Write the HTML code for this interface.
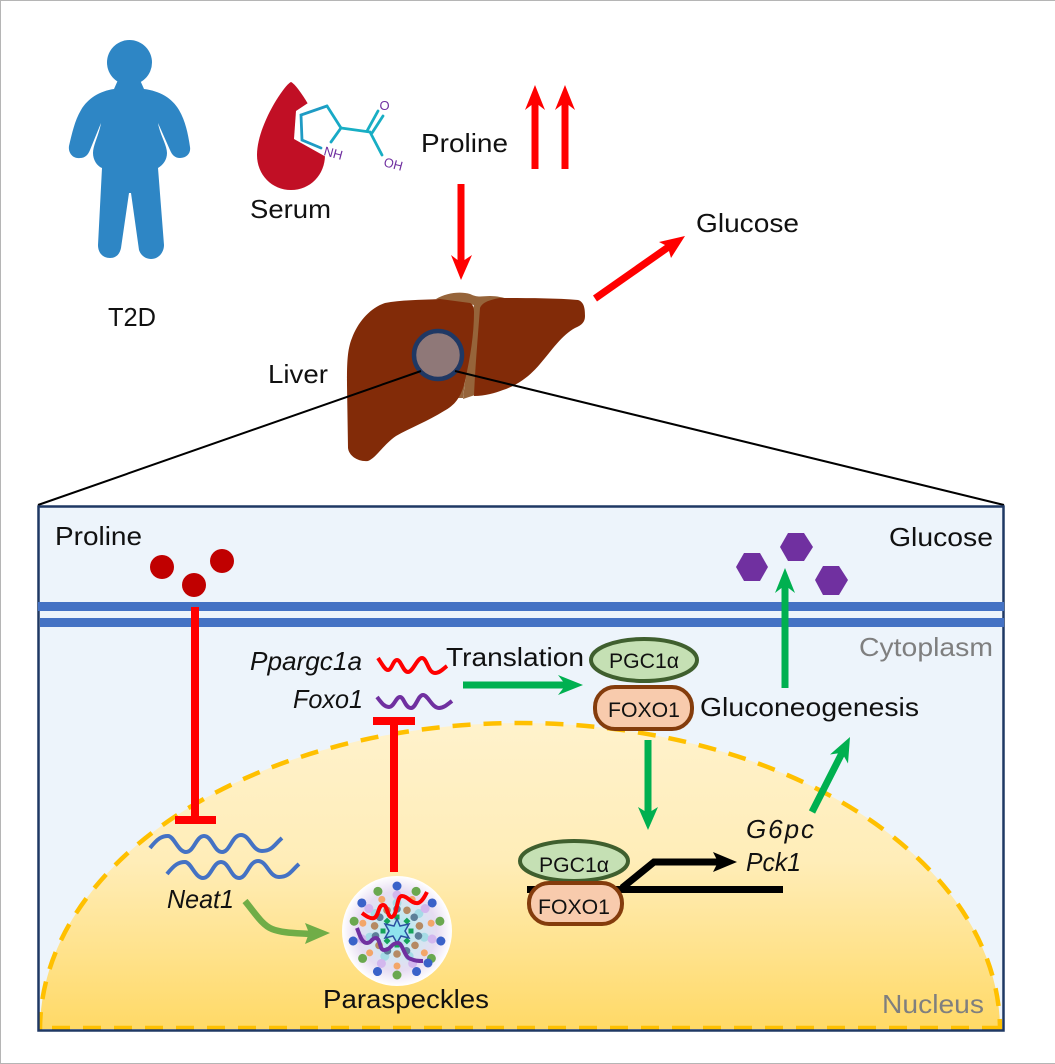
<!DOCTYPE html>
<html>
<head>
<meta charset="utf-8">
<style>
html,body{margin:0;padding:0;background:#fff;width:1055px;height:1064px;overflow:hidden}
svg{display:block}
text{font-family:"Liberation Sans",sans-serif;fill:#111;font-size:26px}
.i{font-style:italic}
.s{font-size:21px}
.g{fill:#7f7f7f}
</style>
</head>
<body>
<svg width="1055" height="1064" viewBox="0 0 1055 1064" xmlns="http://www.w3.org/2000/svg">
<defs>
<linearGradient id="nuc" x1="0" y1="0" x2="0" y2="1">
<stop offset="0" stop-color="#fff2cc"/><stop offset="0.45" stop-color="#ffedb8"/><stop offset="1" stop-color="#ffd966"/>
</linearGradient>
<radialGradient id="sp" cx="0.5" cy="0.5" r="0.5">
<stop offset="0" stop-color="#a8e4ee"/><stop offset="0.4" stop-color="#cfe9f1"/><stop offset="0.72" stop-color="#e6dcf2"/><stop offset="1" stop-color="#ffffff"/>
</radialGradient>
<g id="spokeA">
<circle cx="397" cy="903" r="4.500" fill="#a5dbe6"/>
<circle cx="397" cy="895" r="4.500" fill="#d3b7ee"/>
<circle cx="397" cy="886" r="4.500" fill="#3a62c9"/>
<circle cx="397" cy="909" r="3.800" fill="#5d7f99"/>
</g>
<g id="spokeB">
<circle cx="397" cy="887" r="4.500" fill="#6aa84f"/>
<circle cx="397" cy="896" r="3.500" fill="#f3a66a"/>
<circle cx="397" cy="908" r="3.800" fill="#b58a63"/>
</g>
</defs>

<rect width="1055" height="1064" fill="#fff"/>
<rect x="0" y="0" width="1055" height="1" fill="#b5b5b5"/>
<rect x="0" y="0" width="1" height="1064" fill="#b5b5b5"/>
<rect x="0" y="1063" width="1055" height="1" fill="#b5b5b5"/>

<!-- person -->
<circle cx="129.500" cy="62.500" r="22.500" fill="#2e86c5"/>
<path fill="#2e86c5" d="M118 80L114 89C100 91 88 98 81 110C75 120 72 133 69 146C68 153 73 159 80 158C85 158 88 155 90 150L101 123C99 135 93 145 93 153C93 160 97 166 102 168L98 245C98 253 103 258 110 258C117 258 120 253 121 248L129 193H131L139 250C141 256 146 259 151 259C159 259 164 252 164 245L158 168C163 165 167 160 167 153C167 145 160 135 158 123L170 150C172 155 175 158 180 158C187 158 191 153 190 147C188 133 185 120 179 110C172 98 160 91 144 89L140 80Z"/>

<!-- drop and molecule -->
<path fill="#c10f25" d="M291 82C285 84 257 125 257 155C257 175 272 190 291 190C310 190 325 175 325 155C325 125 297 84 291 82Z"/>
<path fill="#fff" d="M308 103L296 111L294 139L328 158L350 130L328 96Z"/>
<g fill="none" stroke-linecap="round">
<path d="M327 106L301 115L302 140L321 148" stroke="#1f9bc4" stroke-width="2.800"/>
<path d="M327 106L341 128L331 142" stroke="#18a9c6" stroke-width="2.800"/>
<path d="M341 128L370 132L382 155M367 131L378 111M372 133L383 116" stroke="#18aec4" stroke-width="2.800"/>
</g>
<text transform="translate(323 155) rotate(15)" style="font-size:13px;fill:#7030a0" textLength="19" lengthAdjust="spacingAndGlyphs">NH</text>
<text x="379.500" y="110" style="font-size:13px;fill:#7030a0">O</text>
<text transform="translate(383 166) rotate(15)" style="font-size:13px;fill:#7030a0" textLength="19" lengthAdjust="spacingAndGlyphs">OH</text>

<!-- top labels -->
<text x="108" y="326" textLength="48" lengthAdjust="spacingAndGlyphs">T2D</text>
<text x="250" y="218" textLength="81" lengthAdjust="spacingAndGlyphs">Serum</text>
<text x="421" y="152" textLength="87" lengthAdjust="spacingAndGlyphs">Proline</text>
<text x="696" y="232" textLength="103" lengthAdjust="spacingAndGlyphs">Glucose</text>
<text x="268" y="383" textLength="60" lengthAdjust="spacingAndGlyphs">Liver</text>

<!-- top arrows -->
<g fill="#ff0000">
<path d="M531.500 169V105L525 110L535 85L545 110L538.500 105V169Z"/>
<path d="M561.500 169V105L555 110L565 85L575 110L568.500 105V169Z"/>
<path d="M457.500 184V260L451 255L461 280L472 255L464.500 260V184Z"/>
<path d="M593 295.500L665 245L659 242L685 236L671 258L669 251L597 301.500Z"/>
</g>

<!-- liver -->
<path fill="#96643a" d="M436 299C446 293 460 291 470 294C478 298 482 296 490 296C498 296 505 298 512 300L480 310L474 320L470 340L463 398H455L460 380L470 340L474 305Z"/>
<path fill="#96643a" d="M474 304H482L475 395L463 399Z"/>
<path fill="#822b08" d="M440 299C420 300 400 300 385 303C370 308 358 322 352 338C347 350 347 365 347 385L348 448C349 456 358 462 368 461C376 458 384 444 396 436C410 428 428 421 444 411C455 405 460 398 464 385C470 360 474 335 474 312C474 306 472 304 470 303Z"/>
<path fill="#822b08" d="M480 308C482 303 488 300 500 298C525 298 555 298 578 300C584 302 585 308 585 316C585 322 582 325 575 328C562 335 552 350 540 364C530 376 518 385 503 390C495 393 485 396 474 396C475 370 478 335 480 308Z"/>
<circle cx="438" cy="355" r="24" fill="#8f7878" stroke="#1f3864" stroke-width="4.500"/>
<path d="M421 371L38 505M455 371L1004 505" stroke="#000" stroke-width="2" fill="none"/>

<!-- cell box -->
<rect x="38.500" y="506.500" width="965" height="524" fill="#edf4fb"/>
<path d="M40 1029V1030A480 307 0 0 1 1000 1030V1029Z" fill="url(#nuc)"/>
<path d="M40 1030A480 307 0 0 1 1000 1030M1000 1028H40" fill="none" stroke="#ffc000" stroke-width="4.500" stroke-dasharray="18 13"/>
<rect x="38.500" y="506.500" width="965" height="524" fill="none" stroke="#1f3864" stroke-width="2.500"/>
<rect x="38" y="602" width="966" height="9" fill="#4472c4"/>
<rect x="40" y="618" width="964" height="9" fill="#4472c4"/>

<!-- molecules -->
<circle cx="162" cy="567" r="12" fill="#c00000"/>
<circle cx="194" cy="585" r="12" fill="#c00000"/>
<circle cx="222" cy="561" r="12" fill="#c00000"/>
<g fill="#7030a0">
<path d="M744 553H760L768 567L760 581H744L736 567Z"/>
<path d="M788 533H804L813 547L804 561H788L780 547Z"/>
<path d="M823 566H839L848 580L839 595H823L815 580Z"/>
</g>

<!-- labels in cell -->
<text x="55" y="545" textLength="87" lengthAdjust="spacingAndGlyphs">Proline</text>
<text x="889" y="546" textLength="104" lengthAdjust="spacingAndGlyphs">Glucose</text>
<text x="859" y="656" class="g" textLength="134" lengthAdjust="spacingAndGlyphs">Cytoplasm</text>
<text x="882" y="1013" class="g" textLength="102" lengthAdjust="spacingAndGlyphs">Nucleus</text>
<text x="700" y="716" textLength="219" lengthAdjust="spacingAndGlyphs">Gluconeogenesis</text>
<text x="446" y="666" textLength="138" lengthAdjust="spacingAndGlyphs">Translation</text>
<text x="250" y="670" class="i" textLength="112" lengthAdjust="spacingAndGlyphs">Ppargc1a</text>
<text x="293" y="708" class="i" textLength="70" lengthAdjust="spacingAndGlyphs">Foxo1</text>
<text x="167" y="908" class="i" textLength="67" lengthAdjust="spacingAndGlyphs">Neat1</text>
<text x="323" y="1008" textLength="166" lengthAdjust="spacingAndGlyphs">Paraspeckles</text>
<text x="746" y="838" class="i" textLength="68" lengthAdjust="spacing">G6pc</text>
<text x="746" y="871" class="i" textLength="55" lengthAdjust="spacingAndGlyphs">Pck1</text>

<!-- mRNA waves -->
<g fill="none" stroke-linecap="butt">
<path d="M378 658C382 664 385 670 388 670C392 670 393 660 397 660C401 660 403 672 408 672C413 672 417 658 422 658C427 658 428 673 435 673C440 673 444 668 447 666" stroke="#ff0000" stroke-width="4"/>
<path d="M377 697C381 702 384 707 389 707C394 707 396 697 400 697C404 697 405 708 411 708C416 708 418 695 423 695C428 695 432 708 439 708C444 708 448 704 452 701" stroke="#7030a0" stroke-width="4"/>
<path d="M150 848C158 838 162 836 168 836S178 852 186 852S196 836 204 836S214 852 222 852S232 835 241 835S252 851 262 851S274 845 282 838" stroke="#4472c4" stroke-width="4"/>
<path transform="translate(17 26)" d="M150 848C158 838 162 836 168 836S178 852 186 852S196 836 204 836S214 852 222 852S232 835 241 835S252 851 262 851S274 845 282 838" stroke="#4472c4" stroke-width="4"/>
</g>

<!-- inhibition -->
<g fill="#ff0000">
<rect x="191" y="607" width="8" height="213"/>
<rect x="175" y="816" width="41" height="8"/>
<rect x="390" y="722" width="8" height="150"/>
<rect x="373" y="717" width="42" height="8"/>
</g>

<!-- green arrows -->
<g fill="#00b050">
<path d="M463 681.500H563L558 675L583 685L558 695L563 688.500H463Z"/>
<path d="M781.500 688V588L775 593L785 568L795 593L788.500 588V688Z"/>
<path d="M644.500 740V811L638 807L648 830L658 807L651.500 811V740Z"/>
<path d="M808.900 810.400L837.900 753.400L830 754.500L850 737L848 763.500L844.100 756.600L815.100 813.600Z"/>
</g>

<path d="M245 901C255 913 262 925 272 929C282 933 295 933 310 934" stroke="#70ad47" stroke-width="6.500" fill="none"/>
<path d="M330 933L305 923L309 933L305 944Z" fill="#70ad47"/>

<!-- paraspeckle -->
<circle cx="397" cy="931" r="55" fill="url(#sp)"/>
<g>
<use href="#spokeA"/>
<use href="#spokeB" transform="rotate(25.710 397 931)"/>
<use href="#spokeA" transform="rotate(51.430 397 931)"/>
<use href="#spokeB" transform="rotate(77.140 397 931)"/>
<use href="#spokeA" transform="rotate(102.860 397 931)"/>
<use href="#spokeB" transform="rotate(128.570 397 931)"/>
<use href="#spokeA" transform="rotate(154.290 397 931)"/>
<use href="#spokeB" transform="rotate(180 397 931)"/>
<use href="#spokeA" transform="rotate(205.710 397 931)"/>
<use href="#spokeB" transform="rotate(231.430 397 931)"/>
<use href="#spokeA" transform="rotate(257.140 397 931)"/>
<use href="#spokeB" transform="rotate(282.860 397 931)"/>
<use href="#spokeA" transform="rotate(308.570 397 931)"/>
<use href="#spokeB" transform="rotate(334.290 397 931)"/>
</g>
<g fill="#16a35a">
<rect x="394.500" y="914.500" width="5" height="5"/>
<rect x="394.500" y="914.500" width="5" height="5" transform="rotate(45 397 931)"/>
<rect x="394.500" y="914.500" width="5" height="5" transform="rotate(90 397 931)"/>
<rect x="394.500" y="914.500" width="5" height="5" transform="rotate(135 397 931)"/>
<rect x="394.500" y="914.500" width="5" height="5" transform="rotate(180 397 931)"/>
<rect x="394.500" y="914.500" width="5" height="5" transform="rotate(225 397 931)"/>
<rect x="394.500" y="914.500" width="5" height="5" transform="rotate(270 397 931)"/>
<rect x="394.500" y="914.500" width="5" height="5" transform="rotate(315 397 931)"/>
</g>
<path d="M397 919L400 926L409 924L405 931L409 938L401 936L397 943L393 936L385 938L389 931L385 924L394 926Z" fill="#8fe3ee" stroke="#2a4fa0" stroke-width="1.500"/>
<circle cx="428" cy="963" r="4.500" fill="#3a62c9"/>
<path d="M362 913C366 916 370 919 374 918C379 916 378 905 383 905C388 905 387 918 392 917C398 915 396 896 402 896C408 896 411 904 418 903C422 902 425 896 427 892" fill="none" stroke="#ff0000" stroke-width="4"/>
<path d="M357 928C360 936 362 943 367 943C372 943 371 938 376 938C381 939 379 950 384 950C391 950 391 943 398 943C403 943 404 958 411 959C415 961 419 961 423 961" fill="none" stroke="#7030a0" stroke-width="4"/>

<!-- protein complexes -->
<ellipse cx="644" cy="660" rx="53" ry="21" fill="#c5e0b4" stroke="#3f5f2e" stroke-width="4"/>
<rect x="595" y="687" width="97" height="42" rx="20" fill="#f8cbad" stroke="#843c0c" stroke-width="4"/>
<text x="609" y="668" class="s" textLength="70" lengthAdjust="spacingAndGlyphs">PGC1α</text>
<text x="608" y="717" class="s" textLength="72" lengthAdjust="spacingAndGlyphs">FOXO1</text>

<rect x="527" y="886" width="256" height="7" fill="#000"/>
<path d="M622 888L654 862H718" fill="none" stroke="#000" stroke-width="7"/>
<path d="M737 862L713 852L718 862L713 872Z" fill="#000"/>
<ellipse cx="574" cy="861" rx="54" ry="20" fill="#c5e0b4" stroke="#3f5f2e" stroke-width="4"/>
<rect x="529" y="883" width="93" height="41" rx="20" fill="#f8cbad" stroke="#843c0c" stroke-width="4"/>
<text x="539" y="872" class="s" textLength="70" lengthAdjust="spacingAndGlyphs">PGC1α</text>
<text x="538" y="914" class="s" textLength="72" lengthAdjust="spacingAndGlyphs">FOXO1</text>
</svg>
</body>
</html>
